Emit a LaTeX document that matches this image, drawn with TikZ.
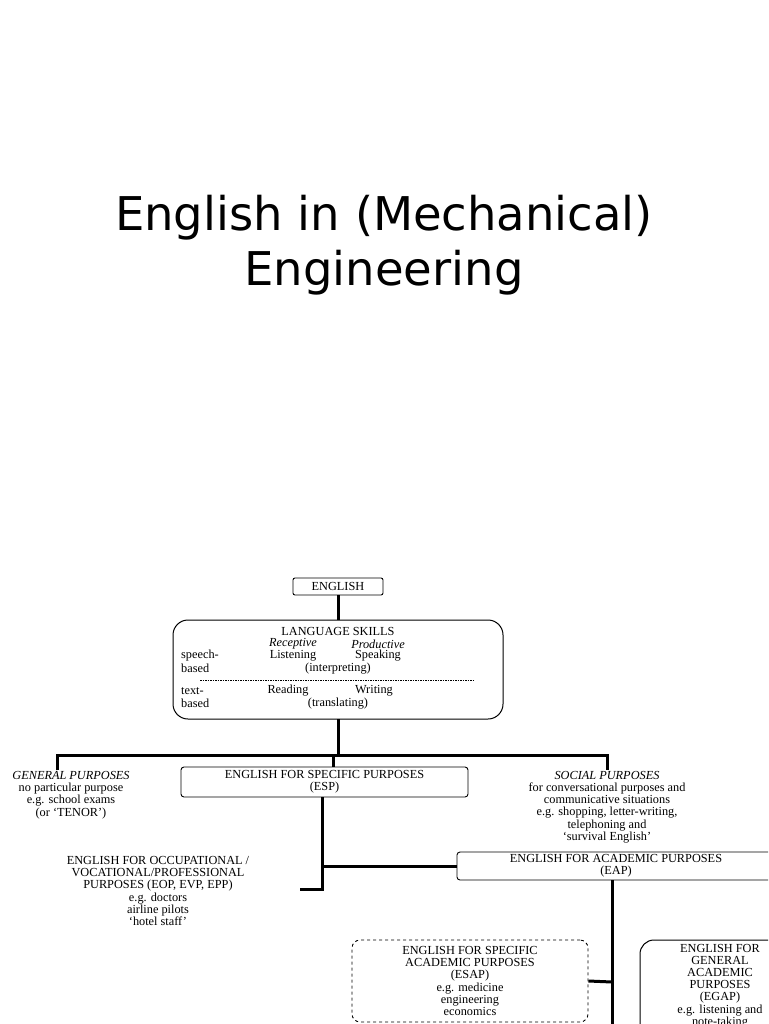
\documentclass[tikz,border=0pt]{standalone}
\usepackage{fontspec}
\setmainfont{Liberation Serif}
\newfontfamily\titlefont{DejaVu Sans}
\begin{document}
\begin{tikzpicture}[x=1pt,y=-1pt,
  txt/.style={font=\fontsize{12.3}{12.2}\selectfont,align=center,inner sep=0pt},
  box/.style={draw,line width=0.9pt,rounded corners=3pt},
  bigbox/.style={draw,line width=1pt,rounded corners=15pt},
  thick3/.style={line width=3pt}]
\useasboundingbox (0,0) rectangle (768,1024);
\clip (0,0) rectangle (768,1024);
\fill[white] (0,0) rectangle (768,1024);
\node[font=\titlefont\fontsize{46.5}{55}\selectfont,align=center] (title) at (384,245) {English in (Mechanical)\\Engineering};

\node[box,minimum width=90,minimum height=17,txt,rounded corners=2pt] (eng) at (338,586.5) {ENGLISH};
\draw[bigbox] (173,620) rectangle (503,719);
\coordinate (lsT) at (338,620); \coordinate (lsB) at (338,719);
\node[txt] (ls1) at (338,631) {LANGUAGE SKILLS};
\node[txt] (rec) at (293,644) {\itshape Receptive};
\node[txt] (pro) at (378,644) {\itshape Productive};
\node[txt,anchor=west] (sp) at (181,656) {speech-};
\node[txt] (lis) at (293,656) {Listening};
\node[txt] (spk) at (378,656) {Speaking};
\node[txt,anchor=west] (b1) at (181,668.5) {based};
\node[txt] (int) at (338,668.5) {(interpreting)};
\draw[dash pattern=on 1.5pt off 1pt,line width=0.5pt] (200,680) -- (475,680);
\node[txt,anchor=west] (tx) at (181,691) {text-};
\node[txt] (rd) at (288,691) {Reading};
\node[txt] (wr) at (374,691) {Writing};
\node[txt,anchor=west] (b2) at (181,703.5) {based};
\node[txt] (tr) at (338,703.5) {(translating)};
\draw[thick3] (eng.south) -- (lsT);
\draw[thick3] (lsB) -- (338,755);
\draw[thick3] (57,770) -- (57,755) -- (607,755) -- (607,770);

\node[box,minimum width=287,minimum height=30,txt] (esp) at (324.5,782) {ENGLISH FOR SPECIFIC PURPOSES\\(ESP)};
\draw[thick3] (333,755) -- (333,767);
\node[txt] (gp) at (71,795) {\itshape GENERAL PURPOSES\\no particular purpose\\e.g. school exams\\(or `TENOR')};
\node[txt] (soc) at (607,807) {\itshape SOCIAL PURPOSES\\for conversational purposes and\\communicative situations\\e.g. shopping, letter-writing,\\telephoning and\\`survival English'};

\node[box,minimum width=318,minimum height=28,txt] (eap) at (616,866) {ENGLISH FOR ACADEMIC PURPOSES\\(EAP)};
\coordinate (c0) at (322,797);
\coordinate (c1) at (322,866);
\coordinate (c2) at (322,889);
\coordinate (c3) at (300,889);
\draw[thick3] (c0) -- (c2) -- (c3);
\draw[thick3] (c1) -- (eap.west);
\node[txt] (eop) at (158,891) {ENGLISH FOR OCCUPATIONAL /\\VOCATIONAL/PROFESSIONAL\\PURPOSES (EOP, EVP, EPP)\\e.g. doctors\\airline pilots\\`hotel staff'};

\node[draw,dashed,line width=0.9pt,rounded corners=8pt,minimum width=236,minimum height=82,txt] (esap) at (470,981) {ENGLISH FOR SPECIFIC\\ACADEMIC PURPOSES\\(ESAP)\\e.g. medicine\\engineering\\economics};
\draw[bigbox,rounded corners=14pt] (640,940) rectangle (820,1060);
\node[txt] (egap) at (720,986) {ENGLISH FOR\\GENERAL\\ACADEMIC\\PURPOSES\\(EGAP)\\e.g. listening and\\note-taking};
\coordinate (e0) at (612,880);
\coordinate (ed) at (612,1030);
\coordinate (e1) at (612,982);
\draw[thick3] (e0) -- (ed);
\draw[thick3] (e1) -- (esap.east);
\end{tikzpicture}
\end{document}
